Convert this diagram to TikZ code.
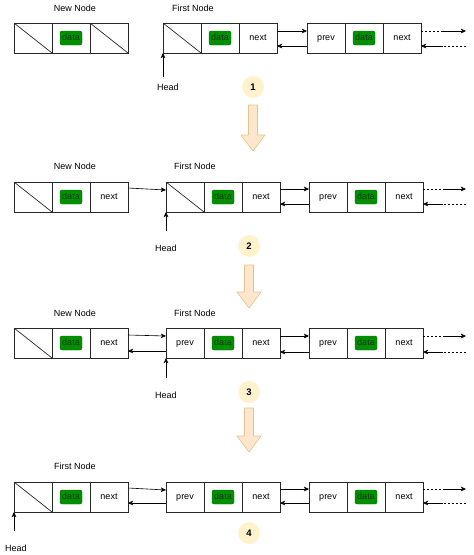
\documentclass[tikz,border=0pt]{standalone}
\usepackage{fontspec}
\setmainfont{Liberation Sans}
\usetikzlibrary{arrows.meta,calc}
\definecolor{datagreen}{RGB}{0,145,0}
\definecolor{datastroke}{RGB}{0,100,0}
\definecolor{datatext}{RGB}{25,55,25}
\definecolor{stepfill}{RGB}{255,242,204}
\definecolor{arrowfill}{RGB}{255,230,204}
\definecolor{arrowline}{RGB}{228,196,140}
\definecolor{cellline}{RGB}{40,40,40}
\tikzset{
  cell/.style={draw=cellline, line width=0.7pt, minimum width=38pt, minimum height=30pt,
    inner sep=0pt, outer sep=0pt, anchor=north west, font=\fontsize{9}{10}\selectfont,
    text height=6.5pt, text depth=1.9pt},
  nullcell/.style={path picture={\draw[cellline, line width=0.7pt]
    (path picture bounding box.north west) -- (path picture bounding box.south east);}},
  databox/.style={fill=datagreen, draw=datastroke, line width=0.4pt, rounded corners=2pt,
    minimum width=22pt, minimum height=14pt, inner sep=0pt,
    font=\fontsize{9}{10}\selectfont, text=datatext, text height=6.5pt, text depth=1.9pt},
  title/.style={font=\fontsize{9}{10}\selectfont},
  headlabel/.style={font=\fontsize{9}{10}\selectfont},
  link/.style={-{Stealth[length=5pt,width=4.5pt,inset=1pt]}, line width=0.6pt, black},
  dlink/.style={line width=0.6pt, black, dash pattern=on 2pt off 2pt},
  stepnum/.style={circle, fill=stepfill, minimum size=22pt, inner sep=0pt,
    font=\bfseries\fontsize{9.5}{10}\selectfont},
  blockarrow/.style={fill=arrowfill, draw=arrowline, line width=0.6pt, line join=miter},
}
% #1 name, #2 x, #3 y, #4 left style, #5 left text, #6 right style, #7 right text
\newcommand{\listnode}[7]{%
  \node[cell,#4] (#1a) at (#2,#3) {#5};
  \node[cell] (#1b) at (#1a.north east) {};
  \node[databox] (#1d) at (#1b.center) {data};
  \node[cell,#6] (#1c) at (#1b.north east) {#7};
}
% #1 x, #2 top, #3 tip
\newcommand{\downblock}[3]{%
  \draw[blockarrow] ({#1-4.5},#2) -- ({#1+4.5},#2) -- ({#1+4.5},{#3-16}) -- ({#1+12},{#3-16})
    -- (#1,#3) -- ({#1-12},{#3-16}) -- ({#1-4.5},{#3-16}) -- cycle;}
% dashed continuation: #1 node, #2 fwd y, #3 back y, #4 fwd shift, #5 back shift
\newcommand{\tail}[5]{%
  \coordinate (#1fm) at (443,#2); \coordinate (#1fe) at (466,#2);
  \coordinate (#1bm) at (443,#3); \coordinate (#1be) at (466,#3);
  \draw[dlink] ([yshift=#4]#1.east) -- (#1fm);
  \draw[link] (#1fm) -- (#1fe);
  \draw[dlink] (#1be) -- (#1bm);
  \draw[link] (#1bm) -- ([yshift=#5]#1.east);
}
\begin{document}
\begin{tikzpicture}[x=1pt,y=-1pt]
\useasboundingbox (0,0) rectangle (474,555);

% ---------- Row 1 ----------
\node[title] (t1n) at (75,8) {New Node};
\node[title] (t1f) at (193,8) {First Node};
\listnode{r1n}{14}{23}{nullcell}{}{nullcell}{}
\listnode{r1f}{163}{23}{nullcell}{}{}{next}
\listnode{r1s}{307}{23}{}{prev}{}{next}
\draw[link] ([yshift=7pt]r1fc.east) -- ([yshift=7pt]r1sa.west);
\draw[link] ([yshift=-8pt]r1sa.west) -- ([yshift=-8pt]r1fc.east);
\tail{r1sc}{31}{46}{7pt}{-8pt}
\node[headlabel] (h1) at (168,87) {Head};
\coordinate (h1t) at (163,77);
\draw[link] (h1t) -- (r1fa.south west);
\node[stepnum] (s1) at (253,87) {1};
\downblock{253}{105}{151}

% ---------- Row 2 ----------
\node[title] (t2n) at (75,166) {New Node};
\node[title] (t2f) at (195,166) {First Node};
\listnode{r2n}{14}{182}{nullcell}{}{}{next}
\listnode{r2f}{166}{182}{nullcell}{}{}{next}
\listnode{r2s}{309}{182}{}{prev}{}{next}
\draw[link] ([yshift=9pt]r2nc.east) -- ([yshift=7pt]r2fa.west);
\draw[link] ([yshift=8pt]r2fc.east) -- ([yshift=8pt]r2sa.west);
\draw[link] ([yshift=-7pt]r2sa.west) -- ([yshift=-7pt]r2fc.east);
\tail{r2sc}{189}{204}{8pt}{-7pt}
\node[headlabel] (h2) at (166,248) {Head};
\coordinate (h2t) at (166,231);
\draw[link] (h2t) -- (r2fa.south west);
\node[stepnum] (s2) at (249,246) {2};
\downblock{249}{265}{308}

% ---------- Row 3 ----------
\node[title] (t3n) at (75,313) {New Node};
\node[title] (t3f) at (195,313) {First Node};
\listnode{r3n}{14}{328}{nullcell}{}{}{next}
\listnode{r3f}{166}{328}{}{prev}{}{next}
\listnode{r3s}{309}{328}{}{prev}{}{next}
\draw[link] ([yshift=8pt]r3nc.east) -- ([yshift=7pt]r3fa.west);
\draw[link] ([yshift=-8pt]r3fa.west) -- ([yshift=-8pt]r3nc.east);
\draw[link] ([yshift=7pt]r3fc.east) -- ([yshift=7pt]r3sa.west);
\draw[link] ([yshift=-9pt]r3sa.west) -- ([yshift=-9pt]r3fc.east);
\tail{r3sc}{336}{352}{7pt}{-9pt}
\node[headlabel] (h3) at (166,395) {Head};
\coordinate (h3t) at (166,378);
\draw[link] (h3t) -- (r3fa.south west);
\node[stepnum] (s3) at (249,392) {3};
\downblock{249}{408}{452}

% ---------- Row 4 ----------
\node[title] (t4f) at (75,466) {First Node};
\listnode{r4a}{14}{482}{nullcell}{}{}{next}
\listnode{r4b}{166}{482}{}{prev}{}{next}
\listnode{r4c}{309}{482}{}{prev}{}{next}
\draw[link] ([yshift=9pt]r4ac.east) -- ([yshift=7pt]r4ba.west);
\draw[link] ([yshift=-6pt]r4ba.west) -- ([yshift=-6pt]r4ac.east);
\draw[link] ([yshift=8pt]r4bc.east) -- ([yshift=8pt]r4ca.west);
\draw[link] ([yshift=-6pt]r4ca.west) -- ([yshift=-6pt]r4bc.east);
\tail{r4cc}{489}{503}{8pt}{-6pt}
\node[headlabel] (h4) at (16,548) {Head};
\coordinate (h4t) at (14,531);
\draw[link] (h4t) -- (r4aa.south west);
\node[stepnum] (s4) at (249,533) {4};
\end{tikzpicture}
\end{document}
